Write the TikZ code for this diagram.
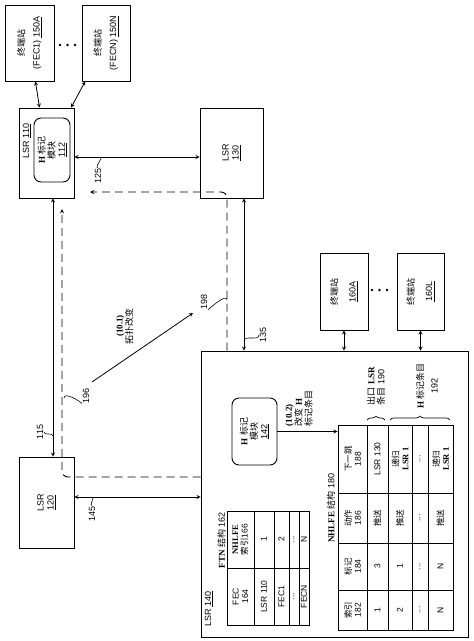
\documentclass[tikz,border=0pt]{standalone}
\usepackage{fontspec}
\setmainfont{Liberation Sans}
\newfontfamily\cjk{Noto Sans CJK SC}
\newfontfamily\tms{Liberation Serif}
\newcommand{\zh}[1]{{\cjk #1}}
\newcommand{\bsf}[1]{{\tms\bfseries #1}}
\usepackage{tikz}
\usetikzlibrary{shapes,decorations.pathreplacing}
\tikzset{box/.style={rectangle,draw,line width=0.9pt,rotate=90,align=center,inner sep=1pt},
         mod/.style={box,rounded corners=7pt},
         txt/.style={rotate=90,align=center,inner sep=0.5pt,font=\fontsize{9}{10}\selectfont},
         cell/.style={txt,font=\fontsize{8.5}{9.5}\selectfont},
         sq/.style={line width=0.6pt},
         brc/.style={decorate,decoration={brace,amplitude=4pt},line width=0.7pt}}

\begin{document}
\begin{tikzpicture}[>=stealth,x=1pt,y=-1pt,line width=0.8pt,font=\fontsize{9}{10}\selectfont]
        \useasboundingbox (0,0) rectangle (474,641);

        \node[box,minimum width=76,minimum height=49] (ea) at (29.5,43) {\zh{终端站}\\[5pt](FEC1) \underline{150A}};
        \node[box,minimum width=76,minimum height=48] (en) at (106,43) {\zh{终端站}\\[5pt](FECN) \underline{150N}};
        \node[box,minimum width=90,minimum height=55] (a) at (46.5,153) {};
        \node[txt] (al) at (27,141) {LSR \underline{110}};
        \node[mod,minimum width=64,minimum height=36] (am) at (52,150) {\bsf{H} \zh{标记}\\\zh{模块}\\\underline{112}};
        \node[box,minimum width=90,minimum height=63] (c) at (231.5,153) {LSR\\\underline{130}};
        \node[box,minimum width=91,minimum height=55] (b) at (46.5,502.5) {LSR\\\underline{120}};
        \node[box,minimum width=286,minimum height=267] (d) at (334.5,494) {};
        \node[txt] (dl) at (209,609) {LSR \underline{140}};
        \node[box,minimum width=77,minimum height=48] (fa) at (344,291.5) {\zh{终端站}\\[8pt]\underline{160A}};
        \node[box,minimum width=77,minimum height=47] (fl) at (420.5,291.5) {\zh{终端站}\\[8pt]\underline{160L}};
        \node[mod,minimum width=67,minimum height=45] (m) at (254.5,431.5) {\bsf{H} \zh{标记}\\\zh{模块}\\\underline{142}};
        \node[box,minimum width=114,minimum height=82] (f) at (268,568) {};
        \node[box,minimum width=205,minimum height=115] (n) at (395.5,527.5) {};

        \foreach \x in {60,67.5,75} \fill (\x,45) circle (1.4);
        \foreach \x in {372,379.5,387} \fill (\x,290) circle (1.4);

        \foreach \x in {254,274,289,299} \draw[line width=0.9pt] (\x,511) -- (\x,625);
        \draw[line width=0.9pt] (227,568) -- (309,568);
        \foreach \x in {367,388,412,428} \draw[line width=0.9pt] (\x,425) -- (\x,630);
        \foreach \y in {493,543,590} \draw[line width=0.9pt] (338,\y) -- (453,\y);

        \node[cell] (f1) at (240.5,596.5) {FEC\\164};
        \node[cell] (f2) at (240.5,539.5) {\bsf{NHLFE}\\\zh{索引}166};
        \node[cell] (f3) at (264,596.5) {LSR 110};
        \node[cell] (f4) at (264,539.5) {1};
        \node[cell] (f5) at (281.5,596.5) {FEC1};
        \node[cell] (f6) at (281.5,539.5) {2};
        \node[cell] (f7) at (294,596.5) {...};
        \node[cell] (f8) at (294,539.5) {...};
        \node[cell] (f9) at (304,596.5) {FECN};
        \node[cell] (f10) at (304,539.5) {N};

        \node[cell] (n1) at (352.5,610) {\zh{索引}\\182};
        \node[cell] (n2) at (352.5,566.5) {\zh{标记}\\184};
        \node[cell] (n3) at (352.5,518) {\zh{动作}\\186};
        \node[cell] (n4) at (352.5,459) {\zh{下一跳}\\188};
        \node[cell] (n5) at (377.5,610) {1};
        \node[cell] (n6) at (377.5,566.5) {3};
        \node[cell] (n7) at (377.5,518) {\zh{推送}};
        \node[cell] (n8) at (377.5,459) {LSR 130};
        \node[cell] (n9) at (400,610) {2};
        \node[cell] (n10) at (400,566.5) {1};
        \node[cell] (n11) at (400,518) {\zh{推送}};
        \node[cell] (n12) at (400,459) {\zh{递归}\\\bsf{LSR 1}};
        \node[cell] (n13) at (420,610) {...};
        \node[cell] (n14) at (420,566.5) {...};
        \node[cell] (n15) at (420,518) {...};
        \node[cell] (n16) at (420,459) {...};
        \node[cell] (n17) at (440.5,610) {N};
        \node[cell] (n18) at (440.5,566.5) {N};
        \node[cell] (n19) at (440.5,518) {\zh{推送}};
        \node[cell] (n20) at (440.5,459) {\zh{递归}\\\bsf{LSR 1}};

        \node[txt] (l1) at (98,176) {125};
        \node[txt] (l2) at (40,432) {115};
        \node[txt] (l3) at (92,514) {145};
        \node[txt] (l4) at (86,395.5) {196};
        \node[txt] (l5) at (204,302) {198};
        \node[txt] (l6) at (263,335) {135};
        \node[txt] (l7) at (125,326) {\bsf{(10.1)}\\\zh{拓扑改变}};
        \node[txt,align=left,anchor=west] (l8) at (299,427) {\bsf{(10.2)}\\\zh{改变} \bsf{H}\\\zh{标记条目}};
        \node[txt] (l9) at (221.5,540) {\bsf{FTN} \zh{结构} 162};
        \node[txt] (l10) at (331,508) {\bsf{NHLFE} \zh{结构} 180};
        \node[txt,align=left,anchor=west] (l11) at (376,406) {\zh{出口} \bsf{LSR}\\\zh{条目} 190};
        \node[txt] (l12) at (427,386) {\bsf{H} \zh{标记条目}\\[4pt]192};

        \coordinate (p) at (90,192);
        \coordinate (q) at (62,209);
        \coordinate (s) at (92,382);
        \coordinate (t) at (193,313);
        \coordinate (k1) at (100,157);
        \coordinate (k2) at (53,436);
        \coordinate (k3) at (92,497);
        \coordinate (k4) at (64,398);
        \coordinate (k5) at (227,300);
        \coordinate (k6) at (244,341);

        \draw [<->] (ea) to (a);
        \draw [<->] (en) to (a);
        \draw [<->] (a.south |- 0,157) to (c.north |- 0,157);
        \draw [<->] (a.west -| 53,0) to (b.east -| 53,0);
        \draw [<->] (b.south |- 0,497) to (d.north |- 0,497);
        \draw [<->] (c.west -| 244,0) to (d.east -| 244,0);
        \draw [<->] (fa.west) to (fa.west |- d.east);
        \draw [<->] (fl.west) to (fl.west |- d.east);
        \draw [->] (s) to (t);
        \draw [->] (m.south) to (m.south -| n.north);
        \draw [->,line width=0.9pt,dash pattern=on 8pt off 5pt,rounded corners=6pt] (d.east -| 227,0) |- (p);
        \draw [->,line width=0.9pt,dash pattern=on 8pt off 5pt,rounded corners=6pt] (d.north |- 0,477) -| (q);

        \draw [sq] (k1) to [out=0,in=180] (l1.east);
        \draw [sq] (k2) to [out=90,in=-90] (l2.south);
        \draw [sq] (k3) to [out=0,in=180] (l3.east);
        \draw [sq,shorten >=8pt] (k4) to [out=90,in=-90] (l4.north);
        \draw [sq,shorten >=8pt] (k5) to [out=90,in=-90] (l5.south);
        \draw [sq] (k6) to [out=90,in=-90] (l6.north);

        \draw [brc] (367,420) -- (385,420);
        \draw [brc] (390,420) -- (450,420);
    \end{tikzpicture}
\end{document}
